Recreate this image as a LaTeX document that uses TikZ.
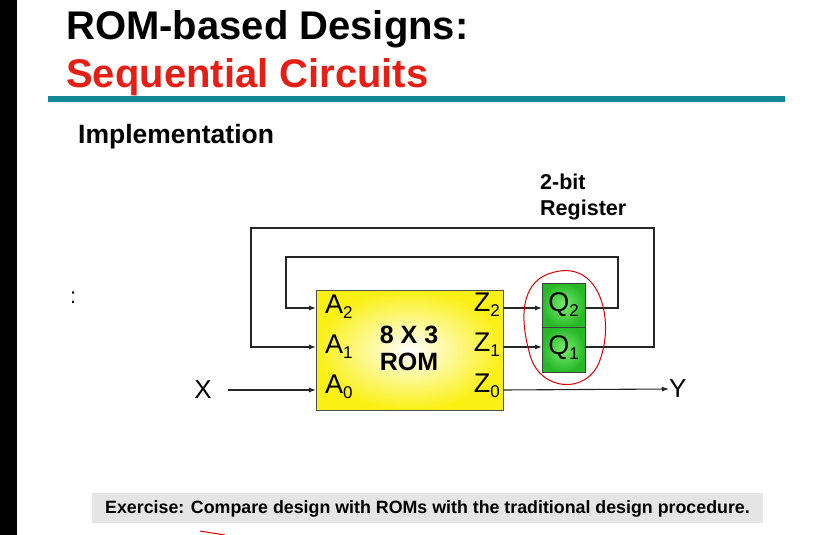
\documentclass[tikz,border=0pt]{standalone}
\usepackage{fontspec}
\setmainfont{Liberation Sans}
\usetikzlibrary{arrows.meta}
\definecolor{titlered}{RGB}{230,30,20}
\definecolor{teal1}{RGB}{20,135,150}
\definecolor{romy}{RGB}{250,240,20}
\definecolor{regin}{RGB}{120,235,110}
\definecolor{regout}{RGB}{40,185,40}
\newcommand{\sbs}[1]{\raisebox{-0.35ex}{\fontsize{17}{17}\selectfont #1}}
\begin{document}
\begin{tikzpicture}[x=1pt,y=-1pt,
  wire/.style={line width=1.1pt,black!85},
  arr/.style={wire,-{Latex[length=7pt,width=5pt]}},
  pin/.style={font=\fontsize{27}{27}\selectfont,inner sep=0pt}]
\useasboundingbox (0,0) rectangle (825,535);
\fill[white] (0,0) rectangle (825,535);
\fill[black] (0,0) rectangle (17,535);
\node[anchor=base west,inner sep=0pt,font=\bfseries\fontsize{40}{40}\selectfont] (t1) at (66,40) {ROM-based Designs:};
\node[anchor=base west,inner sep=0pt,font=\bfseries\fontsize{40}{40}\selectfont,text=titlered] (t2) at (66,88) {Sequential Circuits};
\fill[teal1] (48,96.5) rectangle (785,102);
\node[anchor=base west,inner sep=0pt,font=\bfseries\fontsize{26.5}{26.5}\selectfont] (impl) at (78,143) {Implementation};
\node[anchor=base west,inner sep=0pt,font=\fontsize{22}{22}\selectfont] (colon) at (70,303) {:};
\node[anchor=base west,inner sep=0pt,font=\bfseries\fontsize{21.5}{21.5}\selectfont] (r1) at (540,189) {2-bit};
\node[anchor=base west,inner sep=0pt,font=\bfseries\fontsize{21.5}{21.5}\selectfont] (r2) at (540,215) {Register};
% ROM
\shade[inner color=white,outer color=romy] (316,290) rectangle (503,410);
\draw[line width=1pt,black!70] (316,290) rectangle (503,410);
\node[align=center,font=\bfseries\fontsize{25}{27}\selectfont] (rom) at (409,348) {8 X 3\\ROM};
\node[pin,anchor=west] (a2) at (325,307) {A\sbs{2}};
\node[pin,anchor=west] (a1) at (325,347) {A\sbs{1}};
\node[pin,anchor=west] (a0) at (325,387) {A\sbs{0}};
\node[pin,anchor=east] (z2) at (500,305) {Z\sbs{2}};
\node[pin,anchor=east] (z1) at (500,345) {Z\sbs{1}};
\node[pin,anchor=east] (z0) at (500,386) {Z\sbs{0}};
\coordinate (romA2) at (316,308);
\coordinate (romA1) at (316,347);
\coordinate (romA0) at (316,390);
\coordinate (romZ2) at (503,308);
\coordinate (romZ1) at (503,347);
\coordinate (romZ0) at (503,390);
% register
\shade[inner color=regin,outer color=regout] (542,283) rectangle (585,327);
\shade[inner color=regin,outer color=regout] (542,327) rectangle (585,372);
\draw[line width=1pt,black!75] (542,283) rectangle (585,372) (542,327) -- (585,327);
\node[pin] (q2) at (563.5,305) {Q\sbs{2}};
\node[pin] (q1) at (563.5,348) {Q\sbs{1}};
\coordinate (q2in) at (542,308); \coordinate (q2out) at (585,308);
\coordinate (q1in) at (542,347); \coordinate (q1out) at (585,347);
% wires
\draw[arr] (romZ2) -- (q2in);
\draw[arr] (romZ1) -- (q1in);
\draw[arr] (q2out) -- (618,308) -- (618,257) -- (286,257) -- (286,308) -- (romA2);
\draw[arr] (q1out) -- (654,347) -- (654,228) -- (251,228) -- (251,347) -- (romA1);
\node[font=\fontsize{26}{26}\selectfont,inner sep=0pt] (x) at (203,390) {X};
\node[font=\fontsize{26}{26}\selectfont,inner sep=0pt,anchor=west] (y) at (669,389) {Y};
\draw[arr] (228,390) -- (romA0);
\draw[arr] (romZ0) -- (y.west);
% red annotation
\draw[red!85!black,line width=1pt] (548,274) .. controls (600,255) and (615,320) .. (600,360) .. controls (588,395) and (540,392) .. (530,355) .. controls (520,320) and (520,285) .. (548,274);
% exercise
\fill[black!10] (92,493) rectangle (763,523);
\node[font=\bfseries\fontsize{17.8}{17.8}\selectfont,inner sep=0pt] (ex) at (427.5,509) {Exercise: Compare design with ROMs with the traditional design procedure.};
\draw[red!85!black,line width=1pt] (200,531) -- (225,535);
\end{tikzpicture}
\end{document}
